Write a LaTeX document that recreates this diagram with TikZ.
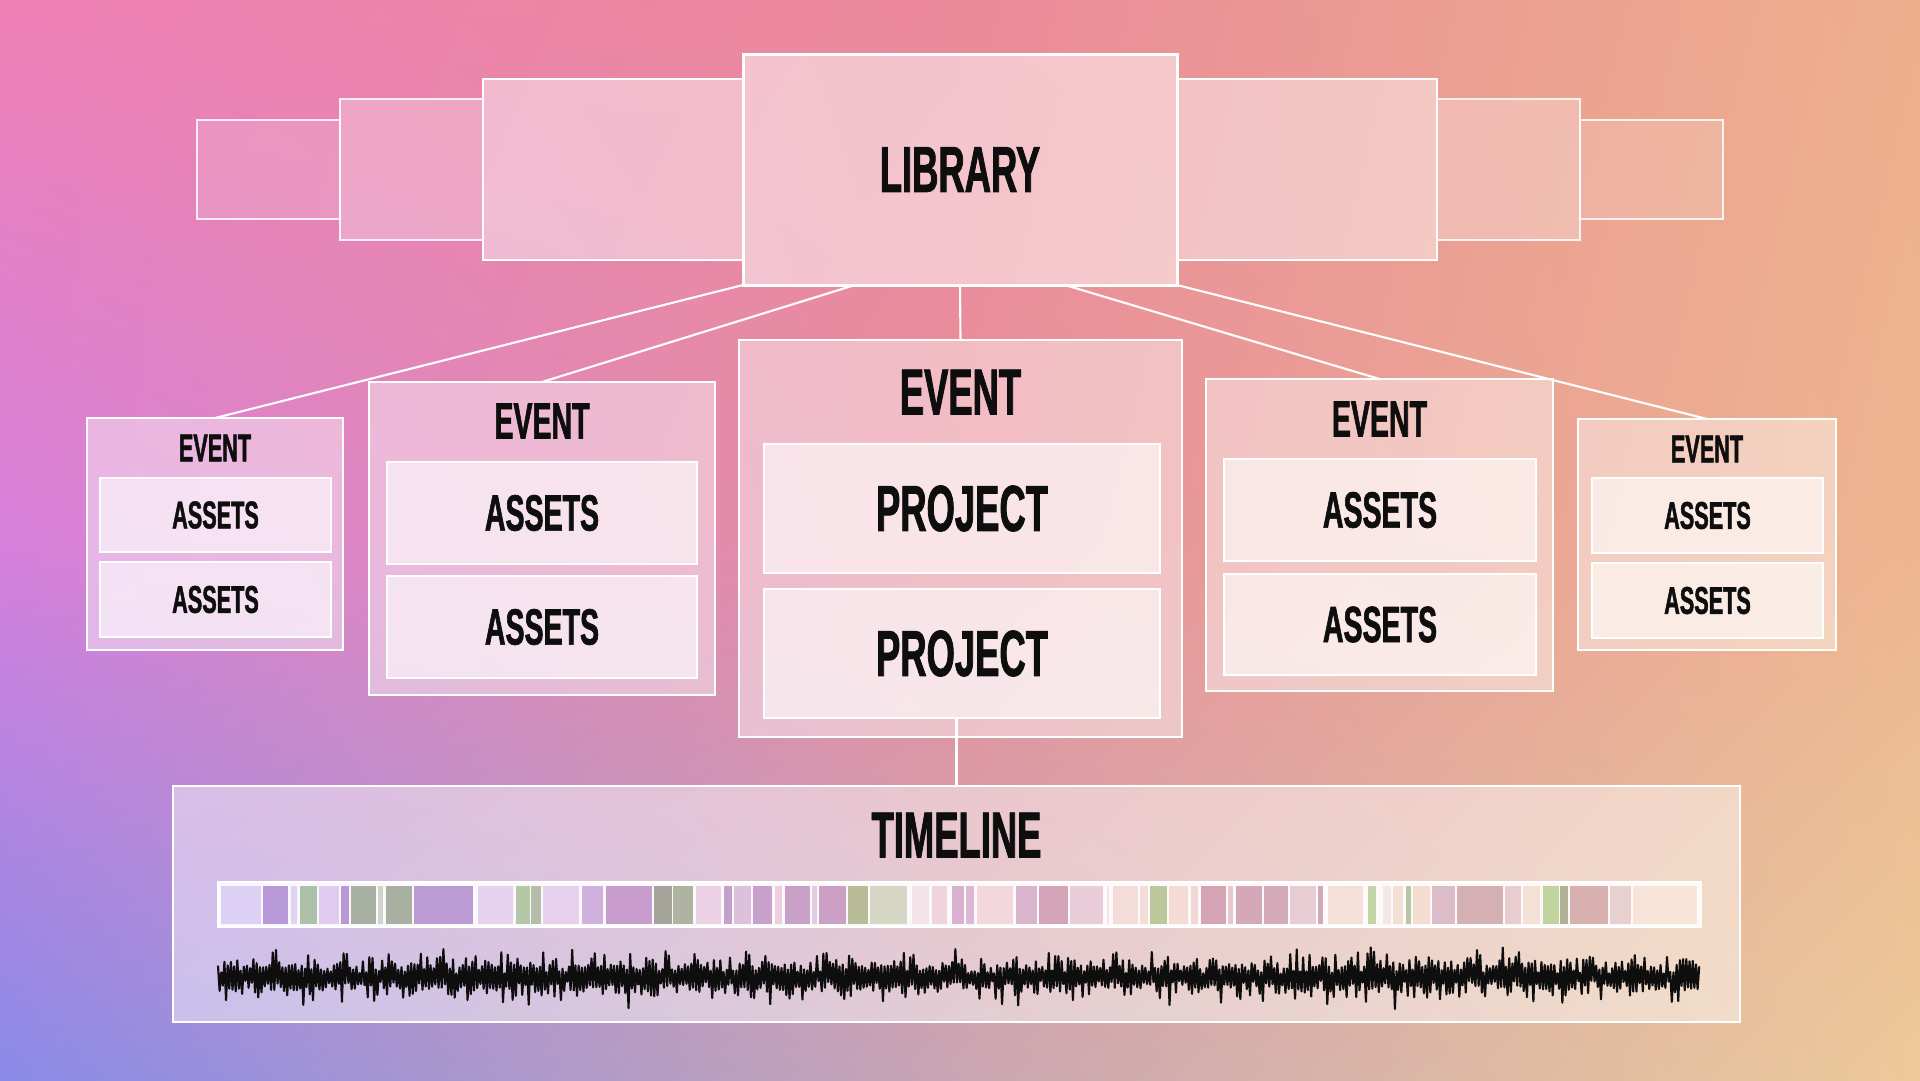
\documentclass[tikz,border=0pt]{standalone}
\usepackage{fontspec}
\newfontfamily\dinfont{Liberation Sans}[FakeStretch=0.56, FakeBold=1.2]
\usetikzlibrary{calc}

% one colour channel of a bilinear blend: tl tr bl br
\newcommand\bgchan[4]{1 index dup 1 exch sub #1 mul exch #2 mul add 2 index dup 1 exch sub #3 mul exch #4 mul add dup 3 1 roll sub 2 index mul add 3 1 roll }
\newcommand\bgquad[4]{%
  \pgfdeclarefunctionalshading{#1}{\pgfpoint{-50bp}{-50bp}}{\pgfpoint{50bp}{50bp}}{}{%
    25 add 50 div exch 25 add 50 div exch #2#3#4pop pop}}

% background corners (red, green, blue)
\bgquad{bgnw}{\bgchan{0.93}{0.92}{0.84}{0.91}}{\bgchan{0.50}{0.54}{0.50}{0.56}}{\bgchan{0.71}{0.60}{0.86}{0.61}}
\bgquad{bgne}{\bgchan{0.92}{0.93}{0.91}{0.93}}{\bgchan{0.54}{0.69}{0.56}{0.71}}{\bgchan{0.60}{0.55}{0.61}{0.56}}
\bgquad{bgsw}{\bgchan{0.84}{0.91}{0.54}{0.79}}{\bgchan{0.50}{0.56}{0.54}{0.65}}{\bgchan{0.86}{0.61}{0.91}{0.70}}
\bgquad{bgse}{\bgchan{0.91}{0.93}{0.79}{0.93}}{\bgchan{0.56}{0.71}{0.65}{0.79}}{\bgchan{0.61}{0.56}{0.70}{0.60}}

\definecolor{ink}{HTML}{0E0E0E}

\begin{document}
\begin{tikzpicture}[x=0.1mm, y=-0.1mm,
  every node/.style={inner sep=0pt, outer sep=0pt, text=ink},
  sidebox/.style={draw=white, draw opacity=0.85, line width=0.45pt, fill=white, fill opacity=#1},
  libbox/.style={draw=white, line width=0.85pt, fill=white, fill opacity=0.5, text opacity=1},
  evbox/.style={draw=white, line width=0.6pt, fill=white, fill opacity=0.42},
  inbox/.style={draw=white, line width=0.8pt, fill=white, fill opacity=0.6, text opacity=1},
  link/.style={white, line width=0.6pt},
  bigtxt/.style={font=\dinfont\bfseries\fontsize{18.5pt}{20pt}\selectfont},
  midtxt/.style={font=\dinfont\bfseries\fontsize{14.5pt}{16pt}\selectfont},
  smltxt/.style={font=\dinfont\bfseries\fontsize{11pt}{12pt}\selectfont}]
  \useasboundingbox (0,0) rectangle (1920,1080);

  % background
  \shade[shading=bgnw] (0,0) rectangle (961,541);
  \shade[shading=bgne] (960,0) rectangle (1920,541);
  \shade[shading=bgsw] (0,540) rectangle (961,1080);
  \shade[shading=bgse] (960,540) rectangle (1920,1080);

  % library row
  \node[sidebox=0.15, minimum width=14.3mm, minimum height=9.9mm] (lf1) at (268.5,169.5) {};
  \node[sidebox=0.28, minimum width=14.3mm, minimum height=14.1mm] (lf2) at (411.5,169.5) {};
  \node[sidebox=0.44, draw opacity=1, line width=0.6pt, minimum width=26mm, minimum height=18.1mm] (lf3) at (613,169.5) {};
  \node[sidebox=0.44, draw opacity=1, line width=0.6pt, minimum width=26mm, minimum height=18.1mm] (rt3) at (1307,169.5) {};
  \node[sidebox=0.28, minimum width=14.3mm, minimum height=14.1mm] (rt2) at (1508.5,169.5) {};
  \node[sidebox=0.15, minimum width=14.3mm, minimum height=9.9mm] (rt1) at (1651.5,169.5) {};
  \node[libbox, bigtxt, minimum width=43.4mm, minimum height=23.1mm] (lib) at (960,169.5) {LIBRARY};

  % events
  \node[evbox, minimum width=25.6mm, minimum height=23.2mm] (e1) at (215,534) {};
  \node[smltxt] (e1t) at (215,448) {EVENT};
  \node[inbox, smltxt, minimum width=23.1mm, minimum height=7.4mm] (a11) at (215.5,515) {ASSETS};
  \node[inbox, smltxt, minimum width=23.1mm, minimum height=7.5mm] (a12) at (215.5,599.5) {ASSETS};

  \node[evbox, minimum width=34.6mm, minimum height=31.3mm] (e2) at (542,538.5) {};
  \node[midtxt] (e2t) at (542,421) {EVENT};
  \node[inbox, midtxt, minimum width=31mm, minimum height=10.2mm] (a21) at (542,513) {ASSETS};
  \node[inbox, midtxt, minimum width=31mm, minimum height=10.2mm] (a22) at (542,627) {ASSETS};

  \node[evbox, minimum width=44.3mm, minimum height=39.7mm] (e3) at (960.5,538.5) {};
  \node[bigtxt] (e3t) at (960.5,392) {EVENT};
  \node[inbox, bigtxt, minimum width=39.6mm, minimum height=12.9mm] (p1) at (962,508.5) {PROJECT};
  \node[inbox, bigtxt, minimum width=39.6mm, minimum height=12.9mm] (p2) at (962,653.5) {PROJECT};

  \node[evbox, minimum width=34.7mm, minimum height=31.2mm] (e4) at (1379.5,535) {};
  \node[midtxt] (e4t) at (1379.5,419) {EVENT};
  \node[inbox, midtxt, minimum width=31.2mm, minimum height=10.2mm] (a41) at (1380,510) {ASSETS};
  \node[inbox, midtxt, minimum width=31.2mm, minimum height=10.1mm] (a42) at (1380,624.5) {ASSETS};

  \node[evbox, minimum width=25.8mm, minimum height=23.1mm] (e5) at (1707,534.5) {};
  \node[smltxt] (e5t) at (1707,449) {EVENT};
  \node[inbox, smltxt, minimum width=23.1mm, minimum height=7.5mm] (a51) at (1707.5,515.5) {ASSETS};
  \node[inbox, smltxt, minimum width=23.1mm, minimum height=7.5mm] (a52) at (1707.5,600.5) {ASSETS};

  % timeline
  \node[evbox, fill opacity=0.45, minimum width=156.7mm, minimum height=23.6mm] (tl) at (956.5,904) {};
  \node[bigtxt] (tlt) at (956.5,835) {TIMELINE};
  \node[draw=white, line width=0.8pt, fill=white, fill opacity=0.9, minimum width=148.3mm, minimum height=4.5mm] (strip) at (959.5,904.5) {};
  \foreach \a/\b/\c in {221/261/DCD0F4, 263/288/B89AD8, 291/297/DED4F2, 300/317/ADC0A8,
      319/339/E0CCF0, 341/349/B898D4, 351/376/A8B0A4, 378/383/D0D4CC, 386/412/A8B0A2,
      414/473/BC9AD4, 478/513/E4D2EE, 516/530/B4C8A8, 531/541/B4BCAA, 543/579/E6D0EE,
      582/603/D0B0DC, 606/652/C89CCC, 654/672/A4A49A, 673/693/AEB4A0, 696/721/ECD0E6,
      724/732/C4A0CC, 734/751/DCC0DC, 753/772/C8A0CC, 775/782/ECCEE0, 785/810/C8A0C8,
      812/817/E0CCE0, 819/846/CCA0C4, 848/868/B8BC98, 870/907/D6D6C4, 912/929/F2E4E8,
      932/947/F0D4DC, 952/964/D8B0D0, 966/974/DCB8D4, 977/1013/F2D8DC, 1016/1037/DAB4CC,
      1039/1068/D4A4B8, 1070/1103/E8CCD8, 1107/1109/F4E4E4, 1113/1138/F4DCD8, 1140/1148/F4DCD8,
      1150/1167/BCC89C, 1169/1188/F4DCD4, 1191/1198/F0D8D4, 1201/1226/D4A4B4, 1228/1233/E8C8CC,
      1236/1262/D4A8B8, 1264/1288/D4AAB8, 1290/1316/E8CCD4, 1318/1323/D0A8B8, 1328/1363/F4E0D8,
      1368/1376/C4D4A4, 1383/1391/F4E8E4, 1393/1403/F2E0D4, 1406/1411/B8C8A0, 1413/1430/F4DCD0,
      1432/1455/DCBCC8, 1457/1503/D4B0B4, 1505/1521/E8CCD0, 1523/1540/F4E0D4, 1543/1559/C0D4A0,
      1560/1568/B0B098, 1570/1608/D8B0B0, 1610/1631/E8D0D0, 1633/1697/F8E4D8}
    {\definecolor{segc}{HTML}{\c}\fill[segc] (\a,886) rectangle (\b,924);}
  % waveform
  \pgfmathsetseed{7}
  \draw[ink, line width=0.6pt, line join=round] plot[domain=0:920, samples=921, variable=\t]
    ({218+1.61*\t}, {977 + (2*mod(round(\t),2)-1)*(3+24*rnd*rnd+8*rnd)});

  % connectors
  \draw[link] (lib.south west) -- (e1.north);
  \draw[link] ($(lib.south west)!0.258!(lib.south east)$) -- (e2.north);
  \draw[link] (lib.south) -- (e3.north);
  \draw[link] ($(lib.south west)!0.742!(lib.south east)$) -- (e4.north);
  \draw[link] (lib.south east) -- (e5.north);
  \draw[link] (tl.north) -- (tl.north |- p2.south);
\end{tikzpicture}
\end{document}
